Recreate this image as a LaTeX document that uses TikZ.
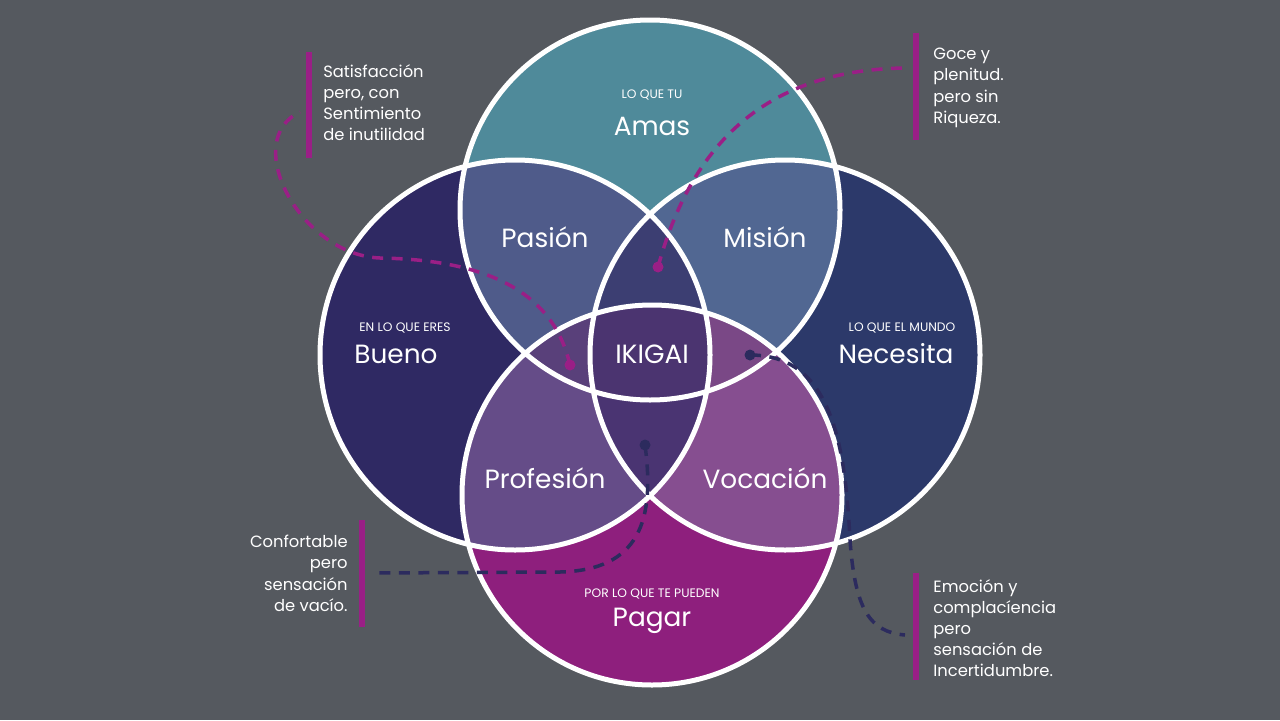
\documentclass[tikz,border=0pt]{standalone}
\usepackage{fontspec}
\setmainfont{Poppins}
\begin{document}
\begin{tikzpicture}[x=0.02cm,y=-0.02cm,
  big/.style={text=white,font=\fontsize{15}{18}\selectfont},
  small/.style={text=white,font=\fontsize{7}{9}\selectfont},
  note/.style={text=white,font=\fontsize{9.3}{12}\selectfont,align=left,anchor=north west,inner sep=0},
  bar/.style={line width=0.12cm},
  dsh/.style={line width=0.07cm,dash pattern=on 0.22cm off 0.17cm}]
\definecolor{bg}{HTML}{55595F}
\definecolor{cT}{HTML}{4F8A9A}
\definecolor{cL}{HTML}{2F2963}
\definecolor{cR}{HTML}{2C396A}
\definecolor{cB}{HTML}{8E1F7D}
\definecolor{cTL}{HTML}{4F5B8A}
\definecolor{cTR}{HTML}{516792}
\definecolor{cBL}{HTML}{654C88}
\definecolor{cBR}{HTML}{864E90}
\definecolor{cTLR}{HTML}{3C3E72}
\definecolor{cBLR}{HTML}{4A3472}
\definecolor{cLTB}{HTML}{59407A}
\definecolor{cRTB}{HTML}{7A4886}
\definecolor{cQ}{HTML}{4B3470}
\definecolor{mag}{HTML}{9A1F86}
\definecolor{navy}{HTML}{2C2B5E}
\fill[bg] (0,0) rectangle (1280,720);
\def\T{(650,210) circle (190)}
\def\L{(515,355) circle (195)}
\def\R{(785,355) circle (195)}
\def\B{(652,495) circle (190)}
\fill[cT] \T; \fill[cL] \L; \fill[cR] \R; \fill[cB] \B;
\begin{scope}\clip \T; \fill[cTL] \L; \fill[cTR] \R; \end{scope}
\begin{scope}\clip \B; \fill[cBL] \L; \fill[cBR] \R; \end{scope}
\begin{scope}\clip \T; \clip \L; \fill[cTLR] \R; \end{scope}
\begin{scope}\clip \B; \clip \L; \fill[cBLR] \R; \end{scope}
\begin{scope}\clip \T; \clip \B; \fill[cLTB] \L; \fill[cRTB] \R; \end{scope}
\begin{scope}\clip \T; \clip \B; \clip \L; \fill[cQ] \R; \end{scope}
\draw[white,line width=0.1cm] \T \L \R \B;
% labels
\node[small] (t1) at (652,95) {LO QUE TU};
\node[big] (t2) at (652,126) {Amas};
\node[small] (l1) at (405,328) {EN LO QUE ERES};
\node[big] (l2) at (396,354) {Bueno};
\node[small] (r1) at (902,328) {LO QUE EL MUNDO};
\node[big] (r2) at (896,354) {Necesita};
\node[small] (b1) at (652,594) {POR LO QUE TE PUEDEN};
\node[big] (b2) at (652,621) {Pagar};
\node[big] (p1) at (545,237) {Pasión};
\node[big] (p2) at (765,237) {Misión};
\node[big] (p3) at (652,354) {IKIGAI};
\node[big] (p4) at (545,478) {Profesión};
\node[big] (p5) at (765,478) {Vocación};
% bars
\draw[bar,mag] (309,52) -- (309,158);
\draw[bar,mag] (916,33) -- (916,140);
\draw[bar,mag] (362,520) -- (362,627);
\draw[bar,mag] (916,573) -- (916,680);
% notes
\node[note] (n1) at (323,64) {Satisfacción\\pero, con\\Sentimiento\\de inutilidad};
\node[note] (n2) at (933,48) {Goce y\\plenitud.\\pero sin\\Riqueza.};
\node[note,align=right,anchor=north east] (n3) at (348,535) {Confortable\\pero\\sensación\\de vacío.};
\node[note] (n4) at (933,579) {Emoción y\\complacíencia\\pero\\sensación de\\Incertidumbre.};
% dashed connectors
\coordinate (d1) at (658,267); \coordinate (e1) at (905,68);
\coordinate (d2) at (570,365); \coordinate (e2) at (300,112);
\coordinate (d3) at (645,445); \coordinate (e3) at (375,573);
\coordinate (d4) at (750,355); \coordinate (e4) at (905,635);
\draw[dsh,mag] (d1) .. controls (690,150) and (760,70) .. (e1);
\draw[dsh,mag] (d2) .. controls (555,300) and (500,260) .. (380,258) .. controls (300,255) and (240,140) .. (e2);
\draw[dsh,navy] (d3) .. controls (655,520) and (640,570) .. (560,572) -- (e3);
\draw[dsh,navy] (d4) .. controls (830,355) and (845,440) .. (850,540) .. controls (855,610) and (870,632) .. (e4);
\fill[mag] (d1) circle (5.5); \fill[mag] (d2) circle (5.5);
\fill[navy] (d3) circle (5.5); \fill[navy] (d4) circle (5.5);
\end{tikzpicture}
\end{document}
